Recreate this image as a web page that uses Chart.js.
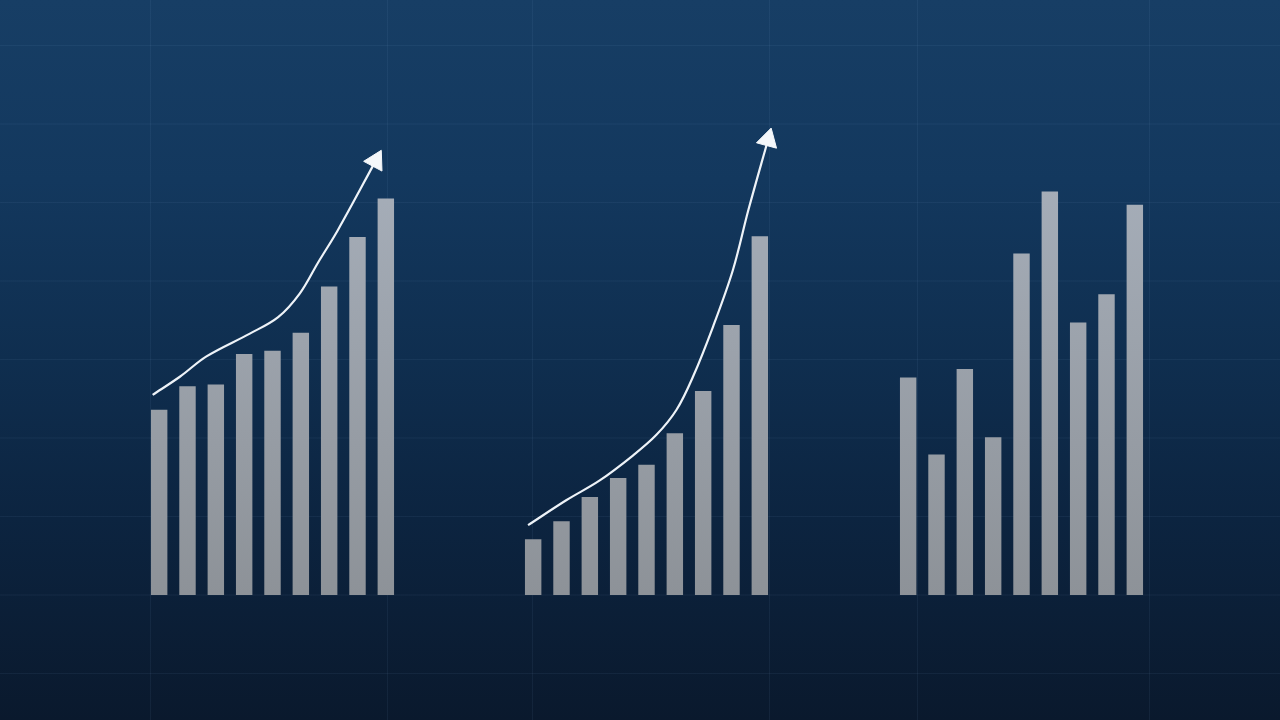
<!DOCTYPE html>
<html>
<head>
<meta charset="utf-8">
<script src="https://cdn.jsdelivr.net/npm/chart.js@4.4.1/dist/chart.umd.min.js"></script>
<style>
    html, body {
        margin: 0;
        padding: 0;
        width: 1280px;
        height: 720px;
        overflow: hidden;
    }
    body {
        position: relative;
        background: linear-gradient(180deg, #173e65 0%, #13385e 25%, #0f2e4f 50%, #0c2440 72%, #0a192d 100%);
    }
    /* faint backdrop grid */
    .grid {
        position: absolute;
        inset: 0;
        background-image:
            linear-gradient(180deg, rgba(140, 180, 225, 0.07) 0 1px, transparent 1px),
            linear-gradient(90deg,
                transparent 150px, rgba(140, 180, 225, 0.07) 150px, rgba(140, 180, 225, 0.07) 151px, transparent 151px,
                transparent 387px, rgba(140, 180, 225, 0.07) 387px, rgba(140, 180, 225, 0.07) 388px, transparent 388px,
                transparent 532px, rgba(140, 180, 225, 0.07) 532px, rgba(140, 180, 225, 0.07) 533px, transparent 533px,
                transparent 769px, rgba(140, 180, 225, 0.07) 769px, rgba(140, 180, 225, 0.07) 770px, transparent 770px,
                transparent 917px, rgba(140, 180, 225, 0.07) 917px, rgba(140, 180, 225, 0.07) 918px, transparent 918px,
                transparent 1149px, rgba(140, 180, 225, 0.07) 1149px, rgba(140, 180, 225, 0.07) 1150px, transparent 1150px);
        background-size: 100% 78.5px, 100% 100%;
        background-position: 0 45px, 0 0;
        background-repeat: repeat, no-repeat;
    }
    .chart-box {
        position: absolute;
        top: 0;
        height: 720px;
        width: 315px;
    }
</style>
</head>
<body>
<div class="grid"></div>
<div class="chart-box" id="box-a"><canvas id="chart-a"></canvas></div>
<div class="chart-box" id="box-b"><canvas id="chart-b"></canvas></div>
<div class="chart-box" id="box-c"><canvas id="chart-c"></canvas></div>

<script>
// Data
const periods = ['1', '2', '3', '4', '5', '6', '7', '8', '9'];

const groupA = [23.6, 26.6, 26.8, 30.7, 31.1, 33.4, 39.3, 45.6, 50.5];
const groupB = [7.1, 9.4, 12.5, 14.9, 16.6, 20.6, 26.0, 34.4, 45.7];
const groupC = [27.7, 17.9, 28.8, 20.1, 43.5, 51.4, 34.7, 38.3, 49.7];

// Trend arrows: [period position, value]; last point carries the arrow head
const trendA = [[-0.23, 25.5], [0.73, 27.8], [1.67, 30.4], [3.2, 33.3], [4.2, 35.4],
    [4.96, 38.4], [5.6, 42.3], [6.31, 46.5], [7.64, 55.3]];
const trendB = [[-0.18, 8.9], [1.18, 12.1], [2.35, 14.6], [3.53, 17.8], [4.35, 20.4],
    [5.06, 23.6], [5.64, 27.8], [6.35, 34.2], [7.05, 41.4], [7.6, 49.1], [8.29, 58.0]];
const arrowAngle = [28, 15];

// Layout (left edge of each chart area, px)
const groupLeft = [145.1, 519.1, 893.8];
const sidePad = 30;

function barGradient(context) {
    const chart = context.chart;
    const {ctx, chartArea, scales} = chart;
    if (!chartArea) return '#979da5';
    const g = ctx.createLinearGradient(0, scales.y.getPixelForValue(0), 0, scales.y.getPixelForValue(52));
    g.addColorStop(0, '#8d9298');
    g.addColorStop(1, '#a5adb8');
    return g;
}

function createChart(canvasId, values, trend, angle) {
    const datasets = [];

    if (trend) {
        const last = trend.length - 1;
        datasets.push({
            type: 'line',
            xAxisID: 'xt',
            data: trend.map(p => ({x: p[0], y: p[1]})),
            borderColor: '#eef3f8',
            borderWidth: 2.2,
            tension: 0.35,
            pointRadius: trend.map((p, i) => i === last ? 12 : 0),
            pointStyle: 'triangle',
            pointRotation: angle,
            pointBackgroundColor: '#f4f7fa',
            pointBorderColor: '#f4f7fa',
            pointBorderWidth: 1,
            clip: false,
            order: 0
        });
    }

    datasets.push({
        type: 'bar',
        data: values,
        backgroundColor: barGradient,
        categoryPercentage: 1,
        barPercentage: 0.58,
        grouped: false,
        order: 1
    });

    return new Chart(document.getElementById(canvasId), {
        type: 'bar',
        data: {
            labels: periods,
            datasets: datasets
        },
        options: {
            responsive: true,
            maintainAspectRatio: false,
            animation: false,
            layout: {
                padding: {left: sidePad, right: sidePad, top: 45.5, bottom: 46.5}
            },
            plugins: {
                legend: {display: false},
                tooltip: {enabled: false}
            },
            scales: {
                x: {display: false},
                xt: {type: 'linear', display: false, offset: false, min: -0.5, max: 8.5},
                y: {display: false, min: -10, max: 70}
            }
        }
    });
}

document.addEventListener('DOMContentLoaded', () => {
    ['box-a', 'box-b', 'box-c'].forEach((id, i) => {
        document.getElementById(id).style.left = (groupLeft[i] - sidePad) + 'px';
    });
    createChart('chart-a', groupA, trendA, arrowAngle[0]);
    createChart('chart-b', groupB, trendB, arrowAngle[1]);
    createChart('chart-c', groupC, null, 0);
});
</script>
</body>
</html>
